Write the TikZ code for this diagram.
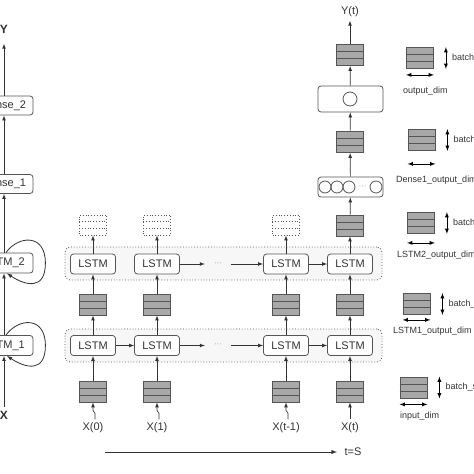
\documentclass[tikz,border=0pt]{standalone}
\usepackage{fontspec}
\setmainfont{Liberation Sans}
\usepackage{tikz}
\usetikzlibrary{arrows}

\definecolor{stackfill}{HTML}{A8A8A8}
\definecolor{edge}{HTML}{555555}
\definecolor{ink}{HTML}{333333}

\tikzset{
  lstm/.style={draw=edge, rounded corners=3pt, fill=white, minimum width=45pt, minimum height=20pt, inner sep=0pt, text=ink, line width=0.8pt},
  layer/.style={draw=edge, fill=stackfill, minimum width=27pt, minimum height=21pt, inner sep=0pt, line width=0.8pt},
  layer rows/.style={draw=edge, line width=0.8pt},
  ghost/.style={draw=edge, dotted, fill=white, minimum width=27pt, minimum height=20pt, inner sep=0pt, line width=0.8pt},
  ghost rows/.style={draw=edge, dotted, line width=0.8pt},
  group/.style={draw=edge, dotted, rounded corners=5pt, fill=black!3, inner sep=0pt, line width=0.8pt},
  unit/.style={draw=edge, circle, inner sep=0pt, line width=0.8pt},
  flow/.style={->, >=latex, draw=ink, line width=0.7pt},
  span/.style={<->, >=latex, draw=black, line width=0.8pt}
}

% stack of three rows: style, name, x, y
\newcommand{\stacknode}[4]{%
  \node[#1] (#2) at (#3,#4) {};
  \draw[#1 rows] ([yshift=3.5pt]#2.west) -- ([yshift=3.5pt]#2.east)
                 ([yshift=-3.5pt]#2.west) -- ([yshift=-3.5pt]#2.east);
}

\begin{document}
\begin{tikzpicture}[x=1pt, y=-1pt, font=\fontsize{11}{13}\selectfont]
\useasboundingbox (0,0) rectangle (474,474);
\clip (0,0) rectangle (474,474);

% folded network on the left
\node[font=\fontsize{12}{14}\selectfont\bfseries, text=ink] (yL) at (4,29) {Y};
\node[lstm, minimum width=58pt, minimum height=19pt] (dense2L) at (4,105.5) {Dense\_2};
\node[lstm, minimum width=58pt, minimum height=19pt] (dense1L) at (4,184) {Dense\_1};
\node[lstm, minimum width=58pt, minimum height=20pt] (lstm2L) at (4,263) {LSTM\_2};
\node[lstm, minimum width=58pt, minimum height=20pt] (lstm1L) at (4,345.5) {LSTM\_1};
\node[font=\fontsize{12}{14}\selectfont\bfseries, text=ink] (xL) at (4,415) {X};
\draw[flow] (xL) -- (lstm1L);
\draw[flow] (lstm1L) -- (lstm2L);
\draw[flow] (lstm2L) -- (dense1L);
\draw[flow] (dense1L) -- (dense2L);
\draw[flow, shorten >=7pt] (dense2L) -- (yL);
\foreach \n in {lstm1L, lstm2L} {
  \draw[flow, line width=0.8pt] ([xshift=2pt]\n.north) .. controls +(12,-17) and +(0,-30) .. ([xshift=12pt]\n.east)
    .. controls +(0,28) and +(18,12) .. ([xshift=3pt]\n.south);
}

% unrolled layers
\node[group, minimum width=317pt, minimum height=33pt] (rowB) at (223.5,263.5) {};
\node[group, minimum width=317pt, minimum height=33pt] (rowA) at (223.5,345.5) {};

\foreach \c/\x/\lab in {0/93/X(0), 1/157/X(1), 2/286/X(t-1), 3/350/X(t)} {
  \node[text=ink] (x\c) at (\x,428) {\lab};
  \stacknode{layer}{in\c}{\x}{391.5}
  \node[lstm] (lstmA\c) at (\x,345.5) {LSTM};
  \stacknode{layer}{mid\c}{\x}{304.5}
  \node[lstm] (lstmB\c) at (\x,264) {LSTM};
  \draw[flow] (in\c) -- (lstmA\c);
  \draw[flow] (lstmA\c) -- (mid\c);
  \draw[flow] (mid\c) -- (lstmB\c);
}
\foreach \c/\x in {0/93, 1/157, 2/286} {
  \stacknode{ghost}{hid\c}{\x}{225}
  \draw[flow] (lstmB\c) -- (hid\c);
  \draw[flow] ([xshift=2pt]x\c.north) -- ++(0,-6) -- ++(-2,-3) -- (in\c.south);
}
\draw[flow] (x3) -- (in3);

\draw[flow] (lstmA0) -- (lstmA1);
\foreach \r/\y in {A/345.5, B/264} {
  \node[text=edge!60, minimum width=26pt, inner sep=0pt, font=\fontsize{8}{9}\selectfont] (dots\r) at (218,\y) {···};
  \draw[flow] (lstm\r1) -- (dots\r);
  \draw[flow] (dots\r) -- (lstm\r2);
  \draw[flow] (lstm\r2) -- (lstm\r3);
}

% dense layers on the last step
\stacknode{layer}{hid3}{350}{225.5}
\draw[flow] (lstmB3) -- (hid3);
\node[lstm, minimum width=65pt, minimum height=20pt] (dense1) at (350.5,187) {};
\foreach \k/\cx in {1/325, 2/337, 3/349, 4/376} {
  \node[unit, minimum size=12pt] (u\k) at (\cx,187) {};
}
\node[text=edge!60, inner sep=0pt, font=\fontsize{8}{9}\selectfont] (udots) at (362.5,187) {···};
\draw[flow] (hid3) -- (dense1);
\stacknode{layer}{out1}{350}{142}
\draw[flow] (dense1) -- (out1);
\node[lstm, minimum width=65pt, minimum height=26pt] (dense2) at (350.5,99) {};
\node[unit, minimum size=14pt] (u0) at (350,99) {};
\draw[flow] (out1) -- (dense2);
\stacknode{layer}{out2}{350}{55}
\draw[flow] (dense2) -- (out2);
\node[text=ink] (yt) at (350,12) {Y(t)};
\draw[flow] (out2) -- (yt);

% time axis
\coordinate (t0) at (105,452);
\node[text=ink] (tS) at (353,452) {t=S};
\draw[flow, line width=1pt, shorten >=4pt] (t0) -- (tS);

% legend
\foreach \i/\x/\y/\hy/\lx/\ly/\lab in {
    1/420/58/6/403/91/output\_dim,
    2/421.5/140/13/396/180/Dense1\_output\_dim,
    3/421/223/9/397/255/LSTM2\_output\_dim,
    4/416.5/304/5/393/331/LSTM1\_output\_dim,
    5/413.5/387.5/6/400/416/input\_dim} {
  \stacknode{layer}{lg\i}{\x}{\y}
  \draw[span] ([xshift=12pt]lg\i.north east) -- ([xshift=12pt]lg\i.south east);
  \draw[span] ([yshift=-\hy pt]lg\i.south west) -- ([yshift=-\hy pt]lg\i.south east);
  \node[anchor=west, inner sep=0pt, text=ink, font=\fontsize{9}{10}\selectfont] (bs\i) at ([xshift=18pt]lg\i.east) {batch\_size};
  \node[anchor=west, inner sep=0pt, text=ink, font=\fontsize{9}{10}\selectfont] (dim\i) at (\lx,\ly) {\lab};
}
\end{tikzpicture}
\end{document}
